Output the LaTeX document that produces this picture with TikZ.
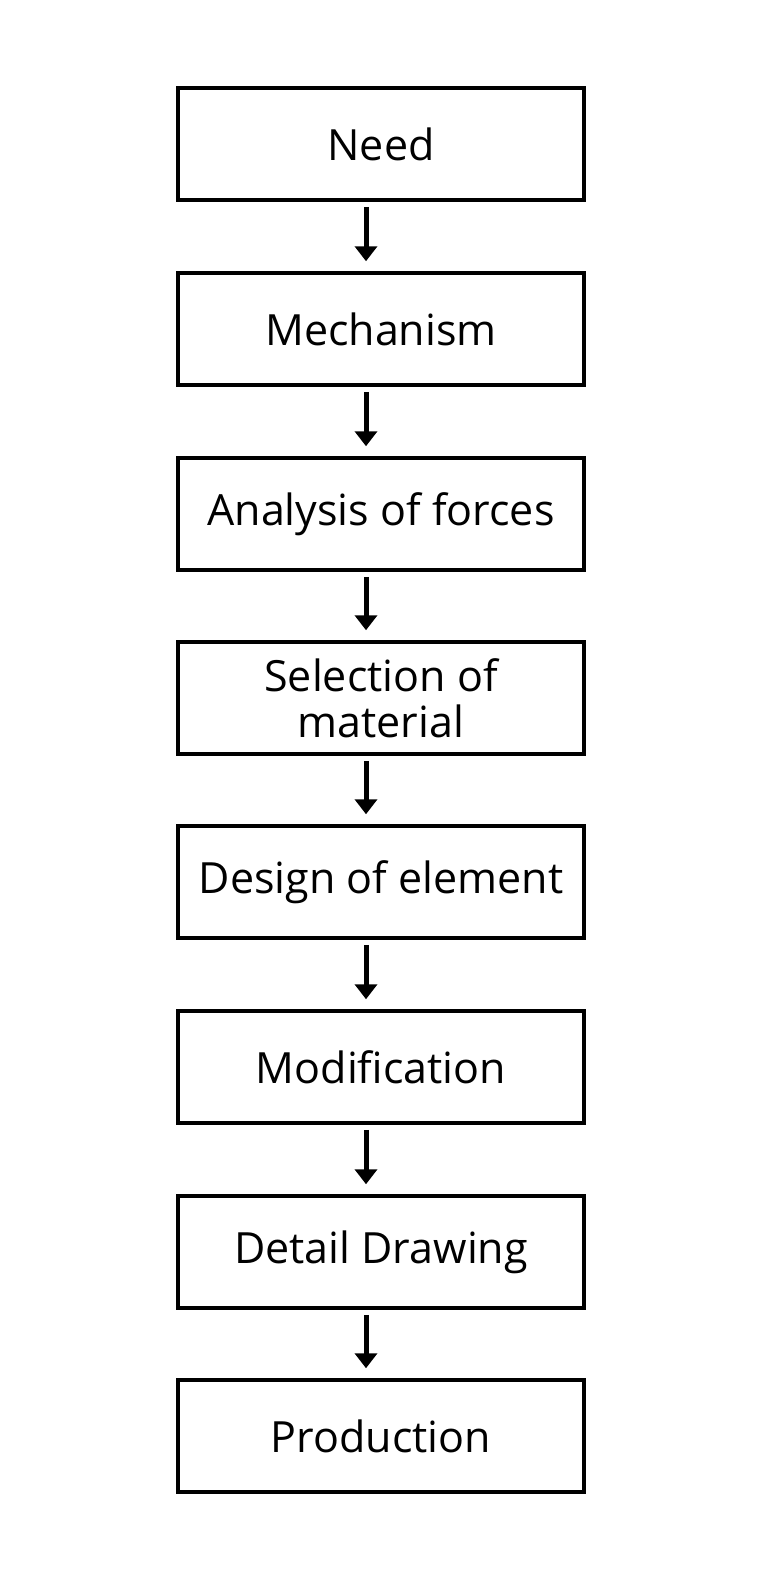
\documentclass[tikz,border=0pt]{standalone}
\usepackage{fontspec}
\setmainfont{Open Sans}
\usetikzlibrary{arrows.meta}
\begin{document}
\begin{tikzpicture}[x=1pt,y=-1pt,
  box/.style={draw,line width=3.5pt,minimum width=406pt,minimum height=112pt,inner sep=0pt,align=center,font=\fontsize{43}{46}\selectfont},
  arr/.style={line width=5pt,-{Triangle[length=15pt,width=22pt]}}]
\useasboundingbox (0,0) rectangle (767,1592);
\node[box] (b1) at (381,144) {Need};
\node[box] (b2) at (381,329) {Mechanism};
\node[box] (b3) at (381,514) {Analysis of forces};
\node[box] (b4) at (381,698) {Selection of\\material};
\node[box] (b5) at (381,882) {Design of element};
\node[box] (b6) at (381,1067) {Modification};
\node[box] (b7) at (381,1252) {Detail Drawing};
\node[box] (b8) at (381,1436) {Production};
\foreach \a/\b in {b1/b2,b2/b3,b3/b4,b4/b5,b5/b6,b6/b7,b7/b8}{
  \draw[arr] ([xshift=-15pt,yshift=-5pt]\a.south) -- ([xshift=-15pt,yshift=10pt]\b.north);
}
\end{tikzpicture}
\end{document}
